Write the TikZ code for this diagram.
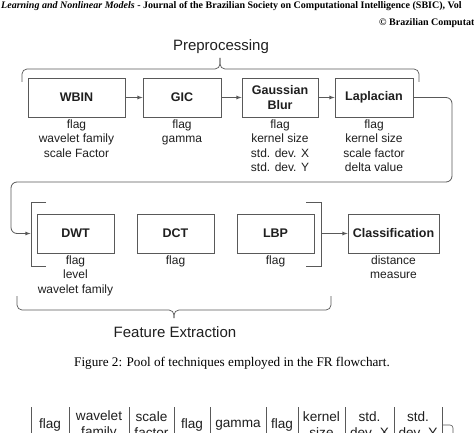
\documentclass[tikz,border=0pt]{standalone}
\usepackage{fontspec}
\setmainfont{Liberation Sans}
\newfontfamily\hdrserif{Liberation Serif}
\usepackage{tikz}
\usetikzlibrary{positioning}
\definecolor{lnc}{gray}{0.35}
\definecolor{txc}{gray}{0.12}
\tikzstyle{blk} = [draw=lnc, line width=0.8pt, minimum height=39pt, inner sep=0pt, text=txc, align=center, font={\bfseries\fontsize{12.5}{15}\selectfont}]
\tikzstyle{param} = [inner sep=1pt, text=txc, align=center, font={\fontsize{12}{14.5}\selectfont}]
\tikzstyle{conn} = [->, >=latex, draw=lnc, line width=0.8pt]
\tikzstyle{brc} = [draw=lnc, line width=0.7pt, rounded corners=5pt]
\tikzstyle{ttl} = [text=txc, font={\fontsize{15}{18}\selectfont}]
\tikzstyle{hdr} = [inner sep=0pt, font={\hdrserif\bfseries\fontsize{10}{12}\selectfont}]
\tikzstyle{cell} = [inner sep=0pt, text=txc, align=center, font={\fontsize{13.6}{16}\selectfont}]
\begin{document}
\begin{tikzpicture}[x=1pt,y=-1pt]
        \clip (0,0) rectangle (474,433);
        \fill[white] (0,0) rectangle (474,433);
        % page header
        \node[hdr,anchor=base west](h1) at (1,9){\itshape Learning and Nonlinear Models\upshape{} - Journal of the Brazilian Society on Computational Intelligence (SBIC), Vol};
        \node[hdr,anchor=base west](h2) at (379,26){© Brazilian Computational Intelligence Society};
        % preprocessing
        \node[ttl](pre) at (221,47){Preprocessing};
        \node[blk,minimum width=97pt](wbin) at (76.5,97.5){WBIN};
        \node[blk,minimum width=78pt](gic) at (182,97.5){GIC};
        \node[blk,minimum width=76pt](gauss) at (280,97.5){Gaussian\\Blur};
        \node[blk,minimum width=78pt](lapl) at (374,97.5){Laplacian};
        \node[param,below=1pt of wbin](wbinp){flag\\wavelet family\\scale Factor};
        \node[param,below=1pt of gic](gicp){flag\\gamma};
        \node[param,below=1pt of gauss](gaussp){flag\\kernel size\\std. dev. X\\std. dev. Y};
        \node[param,below=1pt of lapl](laplp){flag\\kernel size\\scale factor\\delta value};
        \draw[brc](22,82) |- (220,69) -- (220,58);
        \draw[brc](419,82) |- (220,69) -- (220,58);
        \draw[conn](wbin)--(gic);
        \draw[conn](gic)--(gauss);
        \draw[conn](gauss)--(lapl);
        % feature extraction
        \node[blk,minimum width=77pt](dwt) at (75.5,233.5){DWT};
        \node[blk,minimum width=77pt](dct) at (175.5,233.5){DCT};
        \node[blk,minimum width=77pt](lbp) at (275.5,233.5){LBP};
        \node[blk,minimum width=91pt](cls) at (393.5,233.5){Classification};
        \node[param,below=1pt of dwt](dwtp){flag\\level\\wavelet family};
        \node[param,below=1pt of dct](dctp){flag};
        \node[param,below=1pt of lbp](lbpp){flag};
        \node[param,below=1pt of cls](clsp){distance\\measure};
        \coordinate(fel) at (30.5,233.5);
        \coordinate(fer) at (321,233.5);
        \draw[draw=lnc,line width=0.7pt](46,202) -- (31,202) -- (31,266) -- (46,266);
        \draw[draw=lnc,line width=0.7pt](306,202) -- (321,202) -- (321,266) -- (306,266);
        \draw[conn,rounded corners=6pt](lapl.east) -- (452,97.5) -- (452,182) -- (11,182) -- (11,233.5) -- (fel);
        \draw[conn](fer)--(cls);
        \draw[brc](17,296) |- (174,310) -- (174,318);
        \draw[brc](331,296) |- (174,310) -- (174,318);
        \node[ttl](fe) at (175,332){Feature Extraction};
        % caption and table below
        \node[font={\hdrserif\fontsize{13.2}{15}\selectfont}](cap) at (232,363){Figure 2: Pool of techniques employed in the FR flowchart.};
        \foreach \x in {31,69,129,174,210,266,298,345,394,442}
          \draw[draw=lnc,line width=0.6pt](\x,407) -- (\x,436);
        \draw[draw=lnc,line width=0.6pt,rounded corners=3pt](442,425) -- (453,425) -- (453,437);
        \node[cell](c1) at (50,425){flag};
        \node[cell](c2) at (99,425){wavelet\\family};
        \node[cell](c3) at (151.5,425){scale\\factor};
        \node[cell](c4) at (192,425){flag};
        \node[cell](c5) at (238,425){gamma};
        \node[cell](c6) at (282,425){flag};
        \node[cell](c7) at (321.5,425){kernel\\size};
        \node[cell](c8) at (369.5,425){std.\\dev. X};
        \node[cell](c9) at (418,425){std.\\dev. Y};
      \end{tikzpicture}
\end{document}
